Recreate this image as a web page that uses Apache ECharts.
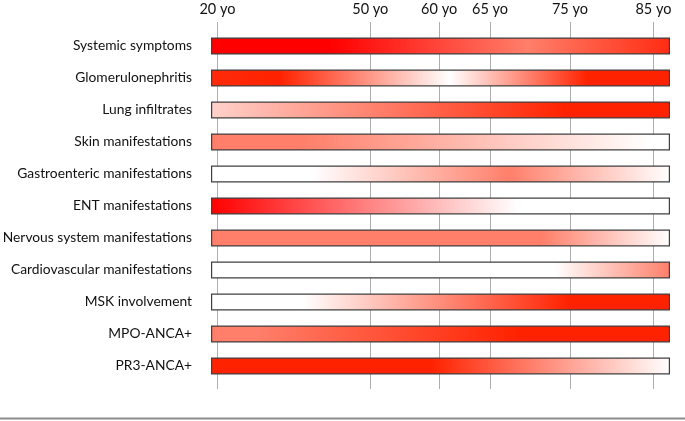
<!DOCTYPE html>
<html><head><meta charset="utf-8">
<script src="https://cdn.jsdelivr.net/npm/echarts@6/dist/echarts.min.js"></script>
<style>html,body{margin:0;padding:0;background:#fff}#c{width:685px;height:421px}</style>
</head><body><div id="c"></div>
<script>
// Categories (top to bottom)
const categories = [
  'Systemic symptoms',
  'Glomerulonephritis',
  'Lung infiltrates',
  'Skin manifestations',
  'Gastroenteric manifestations',
  'ENT manifestations',
  'Nervous system manifestations',
  'Cardiovascular manifestations',
  'MSK involvement',
  'MPO-ANCA+',
  'PR3-ANCA+'
];
// Age axis (position scale 0..100 across the bar span; ticks are not evenly spaced in the original)
const ageLabels = ['20 yo', '50 yo', '60 yo', '65 yo', '75 yo', '85 yo'];
const agePositions = [1.4, 34.7, 49.7, 60.8, 78.2, 96.4];
const barSpanEnd = [100, 100, 100, 100, 100, 100, 100, 100, 100, 100, 100];

// Colour intensity along each bar: [offset, colour]
const RED = '#FF0000', ORANGE_RED = '#FF2200', SALMON = '#FF7F6A', WHITE = '#FFFFFF';
const gradientStops = [
  [[0, RED], [0.26, RED], [0.69, SALMON], [1, '#FF2C12']],
  [[0, '#FF2A0A'], [0.15, ORANGE_RED], [0.52, WHITE], [0.82, ORANGE_RED], [1, ORANGE_RED]],
  [[0, '#FFD2CB'], [0.77, ORANGE_RED], [1, ORANGE_RED]],
  [[0, SALMON], [0.2, SALMON], [0.96, WHITE], [1, WHITE]],
  [[0, WHITE], [0.22, WHITE], [0.65, SALMON], [1, WHITE]],
  [[0, RED], [0.67, WHITE], [1, WHITE]],
  [[0, SALMON], [0.72, SALMON], [1, WHITE]],
  [[0, WHITE], [0.75, WHITE], [1, SALMON]],
  [[0, WHITE], [0.2, WHITE], [0.78, ORANGE_RED], [1, ORANGE_RED]],
  [[0, SALMON], [0.1, SALMON], [0.67, ORANGE_RED], [1, ORANGE_RED]],
  [[0, ORANGE_RED], [0.48, ORANGE_RED], [1, WHITE]]
];

const FONT = 'Lato';
const chart = echarts.init(document.getElementById('c'), null, {renderer: 'canvas'});

function labelFor(v) {
  let best = 0, d = Infinity;
  agePositions.forEach((p, i) => { if (Math.abs(p - v) < d) { d = Math.abs(p - v); best = i; } });
  return ageLabels[best];
}

chart.setOption({
  animation: false,
  backgroundColor: '#fff',
  grid: [
    {left: 211, right: 15, top: 30, bottom: 39, containLabel: false, outerBoundsMode: 'none'},
    {left: 211, right: 15, top: 22, bottom: 32, containLabel: false, outerBoundsMode: 'none'}
  ],
  xAxis: [
    {gridIndex: 0, type: 'value', min: 0, max: 100, show: false},
    {gridIndex: 1, type: 'value', min: 0, max: 100, position: 'top',
     axisLine: {show: false}, axisTick: {show: false}, splitLine: {show: false},
     axisLabel: {customValues: agePositions, formatter: labelFor, margin: 5,
       fontFamily: FONT, fontSize: 14.5, color: '#111'}}
  ],
  yAxis: [
    {gridIndex: 0, type: 'category', data: categories, inverse: true,
     axisLine: {show: false}, axisTick: {show: false}, splitLine: {show: false},
     axisLabel: {margin: 19, fontFamily: FONT, fontSize: 13.8, color: '#111'}},
    {gridIndex: 1, type: 'value', min: 0, max: 1, show: false}
  ],
  series: [
    {
      type: 'line', xAxisIndex: 1, yAxisIndex: 1, z: 1,
      data: [[0, 0], [100, 0]], symbol: 'none', silent: true,
      lineStyle: {opacity: 0},
      markLine: {
        silent: true, symbol: ['none', 'none'], label: {show: false},
        lineStyle: {color: '#adadad', width: 1, type: 'solid'},
        data: agePositions.map(p => ({xAxis: p}))
      }
    },
    {
      type: 'bar', xAxisIndex: 0, yAxisIndex: 0, z: 5, barWidth: 17, silent: true,
      data: barSpanEnd.map((v, i) => ({
        value: v,
        itemStyle: {
          color: new echarts.graphic.LinearGradient(0, 0, 1, 0,
            gradientStops[i].map(s => ({offset: s[0], color: s[1]}))),
          borderColor: '#404040', borderWidth: 1.2
        }
      }))
    }
  ],
  graphic: [{
    type: 'line', silent: true,
    shape: {x1: 0, y1: 418.5, x2: 685, y2: 418.5},
    style: {stroke: '#8c8c8c', lineWidth: 2}
  }]
});
</script></body></html>
